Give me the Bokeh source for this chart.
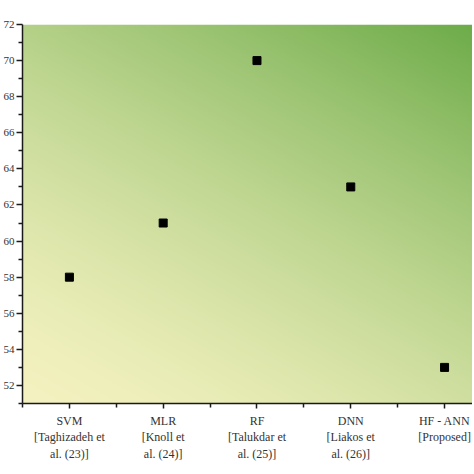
import numpy as np
from bokeh.plotting import figure
from bokeh.models import FixedTicker, ColumnDataSource, Range1d
from bokeh.embed import file_html
from bokeh.resources import INLINE

# ---- data ----
categories = [
    "SVM\n[Taghizadeh et\nal. (23)]",
    "MLR\n[Knoll et\nal. (24)]",
    "RF\n[Talukdar et\nal. (25)]",
    "DNN\n[Liakos et\nal. (26)]",
    "HF - ANN\n[Proposed]",
]
positions = [1, 2, 3, 4, 5]
values = [58, 61, 70, 63, 53]
y_ticks = [52, 54, 56, 58, 60, 62, 64, 66, 68, 70, 72]
y_minor = [51, 53, 55, 57, 59, 61, 63, 65, 67, 69, 71]
x_minor = [0.5, 1.5, 2.5, 3.5, 4.5, 5.5]

FONT = "Liberation Serif"

W, H = 472, 472
b_left, b_top, b_right, b_bottom = 21, 24, 0, 69
frame_left_page = b_left
px_per_unit = 94.0
x_start = 1 - (68 - frame_left_page) / px_per_unit
x_end = x_start + (W - frame_left_page) / px_per_unit
y_start, y_end = 51, 72

p = figure(width=W, height=H, output_backend="svg", toolbar_location=None,
           x_range=Range1d(x_start, x_end), y_range=Range1d(y_start, y_end),
           min_border_left=b_left, min_border_top=b_top,
           min_border_right=b_right, min_border_bottom=b_bottom)
p.outline_line_color = None
p.xgrid.visible = False
p.ygrid.visible = False
p.background_fill_color = "white"

# gradient background
nx, ny = 300, 300
u = np.linspace(0, 0.96, nx)[None, :]
v = np.linspace(0, 1, ny)[:, None]
t = np.clip(0.6 * v + 0.42 * u, 0, 1) ** 1.45
c0 = np.array([244, 242, 192], dtype=float)
c1 = np.array([110, 172, 74], dtype=float)
img = np.empty((ny, nx), dtype=np.uint32)
view = img.view(dtype=np.uint8).reshape((ny, nx, 4))
for k in range(3):
    view[:, :, k] = (c0[k] + (c1[k] - c0[k]) * t).astype(np.uint8)
view[:, :, 3] = 255
p.image_rgba(image=[img], x=x_start, y=y_start, dw=x_end - x_start, dh=y_end - y_start)

src = ColumnDataSource(dict(x=positions, y=values))
p.scatter("x", "y", source=src, marker="square", size=8, fill_color="black", line_color="black")

# x axis
xa = p.xaxis[0]
xa.ticker = FixedTicker(ticks=positions, minor_ticks=x_minor)
xa.major_label_overrides = {pos: lab for pos, lab in zip(positions, categories)}
xa.major_label_text_font = FONT
xa.major_label_text_font_size = "12px"
xa.major_label_text_color = "#333333"
xa.axis_line_width = 1.5
xa.axis_line_color = "#1a1a1a"
xa.major_tick_line_color = "#1a1a1a"
xa.minor_tick_line_color = "#1a1a1a"
xa.major_tick_line_width = 1.5
xa.minor_tick_line_width = 1.5
xa.major_tick_out = 5
xa.major_tick_in = 0
xa.minor_tick_out = 4
xa.minor_tick_in = 0
xa.major_label_standoff = 5

# y axis
ya = p.yaxis[0]
ya.ticker = FixedTicker(ticks=y_ticks, minor_ticks=y_minor)
ya.major_label_text_font = FONT
ya.major_label_text_font_size = "11px"
ya.major_label_text_color = "#333333"
ya.axis_line_width = 1.5
ya.axis_line_color = "#1a1a1a"
ya.major_tick_line_color = "#1a1a1a"
ya.minor_tick_line_color = "#1a1a1a"
ya.major_tick_line_width = 1.5
ya.minor_tick_line_width = 1.5
ya.major_tick_out = 6
ya.major_tick_in = 0
ya.minor_tick_out = 4
ya.minor_tick_in = 0
ya.major_label_standoff = 2

open("out.html", "w").write(file_html(p, INLINE))
